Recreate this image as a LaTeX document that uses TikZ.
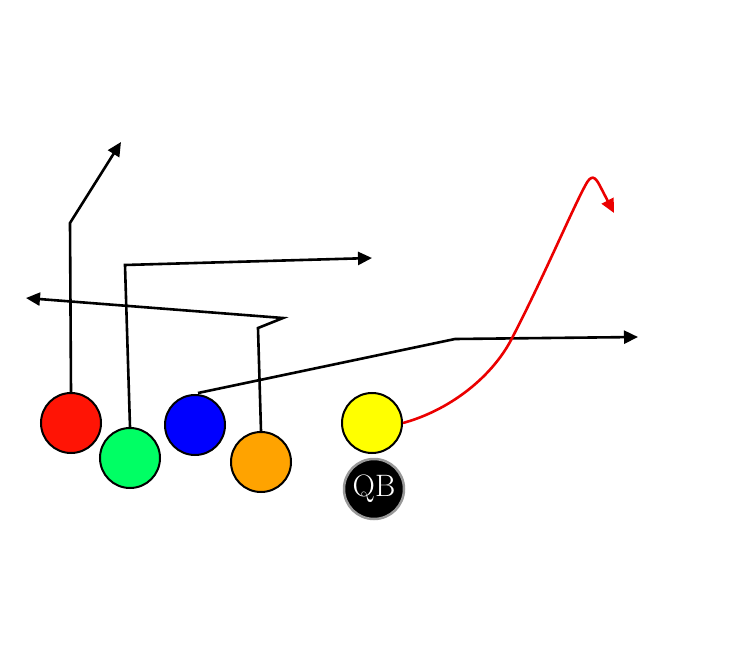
\documentclass[tikz,border=0pt]{standalone}
\usetikzlibrary{arrows.meta}
\definecolor{pred}{RGB}{255,20,5}
\definecolor{pgreen}{RGB}{0,255,100}
\definecolor{pblue}{RGB}{0,0,255}
\definecolor{porange}{RGB}{255,163,0}
\definecolor{pyellow}{RGB}{255,255,0}
\definecolor{rroute}{RGB}{235,0,0}
\begin{document}
\begin{tikzpicture}[x=1pt,y=-1pt,
  player/.style={circle,draw=black,line width=2pt,minimum size=60pt,inner sep=0pt},
  route/.style={line width=2.6pt,line join=miter,-{Triangle[length=14pt,width=13pt]}},
]
\useasboundingbox (0,0) rectangle (750,655);
\node[player,fill=pred] (r) at (71,423) {};
\node[player,fill=pgreen] (g) at (130,458) {};
\node[player,fill=pblue] (b) at (195,425) {};
\node[player,fill=porange] (o) at (261,462) {};
\node[player,fill=pyellow] (y) at (372,423) {};
\node[player,fill=black,draw=gray!80,line width=2.5pt,text=white,font=\fontsize{31}{33}\selectfont] (qb) at (374,489) {QB};
\coordinate (r1) at (70,223); \coordinate (r2) at (121,142);
\coordinate (g1) at (125,265); \coordinate (g2) at (372,258);
\coordinate (o1) at (258,328); \coordinate (o2) at (283,318); \coordinate (o3) at (26,298);
\coordinate (b1) at (455,339); \coordinate (b2) at (638,337);
\coordinate (y1) at (510,342); \coordinate (y2) at (614,213);
\draw[route] (r.north) -- (r1) -- (r2);
\draw[route] (g.north) -- (g1) -- (g2);
\draw[route] (o.north) -- (o1) -- (o2) -- (o3);
\draw[route] (198,393) -- (b1) -- (b2);
\draw[route,rroute] (y.east) .. controls (450,410) and (490,378) .. (y1)
  .. controls (540,285) and (572,210) .. (585,186)
  .. controls (591,174) and (595,176) .. (600,186) -- (y2);
\end{tikzpicture}
\end{document}
